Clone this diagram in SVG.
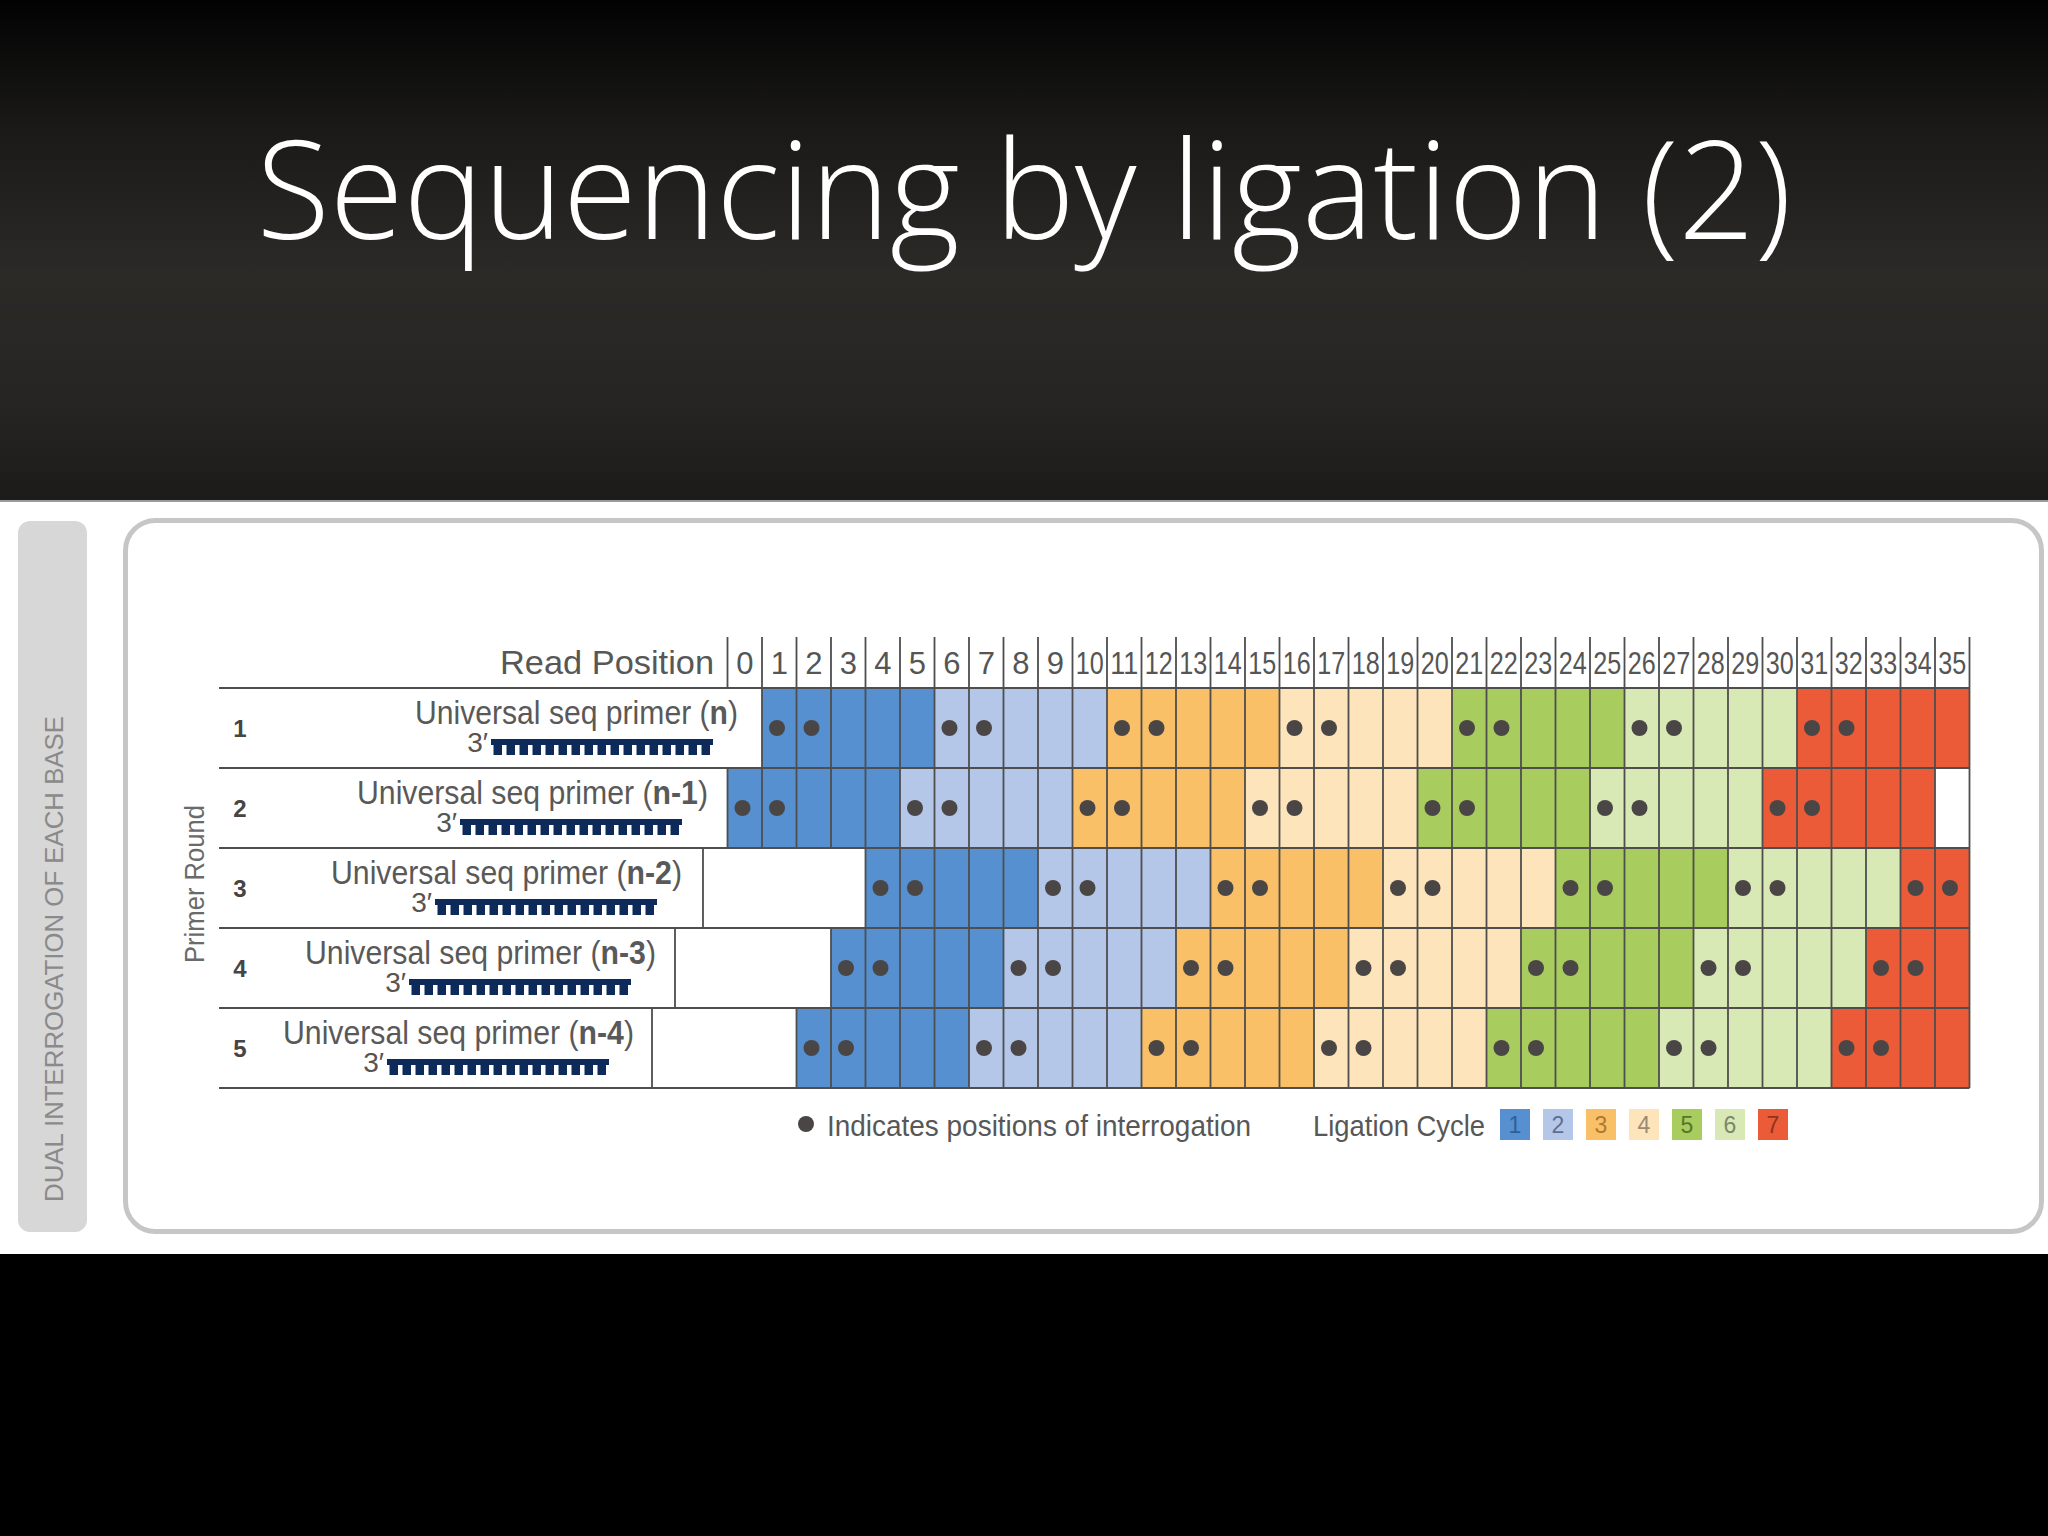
<svg xmlns="http://www.w3.org/2000/svg" xmlns:xlink="http://www.w3.org/1999/xlink" width="2048" height="1536" viewBox="0 0 2048 1536">
<defs>
<linearGradient id="bannerGrad" x1="0" y1="0" x2="0" y2="1">
<stop offset="0" stop-color="#020202"/>
<stop offset="0.25" stop-color="#1a1918"/>
<stop offset="0.55" stop-color="#2c2a27"/>
<stop offset="0.8" stop-color="#272523"/>
<stop offset="1" stop-color="#1c1b19"/>
</linearGradient>
<circle id="dot" cx="0" cy="0" r="8" fill="#4a4646"/>
<g id="comb" fill="#0e2a5a">
<rect x="0" y="0" width="222" height="6"/>
<rect x="2.5" y="4" width="8.5" height="12"/><rect x="15.5" y="4" width="8.5" height="12"/><rect x="28.5" y="4" width="8.5" height="12"/><rect x="41.5" y="4" width="8.5" height="12"/><rect x="54.5" y="4" width="8.5" height="12"/><rect x="67.5" y="4" width="8.5" height="12"/><rect x="80.5" y="4" width="8.5" height="12"/><rect x="93.5" y="4" width="8.5" height="12"/><rect x="106.5" y="4" width="8.5" height="12"/><rect x="119.5" y="4" width="8.5" height="12"/><rect x="132.5" y="4" width="8.5" height="12"/><rect x="145.5" y="4" width="8.5" height="12"/><rect x="158.5" y="4" width="8.5" height="12"/><rect x="171.5" y="4" width="8.5" height="12"/><rect x="184.5" y="4" width="8.5" height="12"/><rect x="197.5" y="4" width="8.5" height="12"/><rect x="210.5" y="4" width="8.5" height="12"/>
</g>
</defs>
<style>
.c1{fill:#5690d0}.c2{fill:#b4c7e8}.c3{fill:#f9c067}.c4{fill:#fde4ba}.c5{fill:#a9cc5f}.c6{fill:#d9e9b6}.c7{fill:#eb5b37}
.t{font-family:"Liberation Sans",Arial,sans-serif;fill:#575757}
.hd{font-family:"Liberation Sans",Arial,sans-serif;font-size:31px;fill:#555;text-anchor:middle}
.pl{font-family:"Liberation Sans",Arial,sans-serif;font-size:34px;fill:#595959}
.th{font-family:"Liberation Sans",Arial,sans-serif;font-size:28px;fill:#555;text-anchor:end}
.rn{font-family:"Liberation Sans",Arial,sans-serif;font-size:24px;font-weight:bold;fill:#454545;text-anchor:middle}
.ln{stroke:#4e4e4e;stroke-width:1.8;fill:none}
.lg{font-family:"Liberation Sans",Arial,sans-serif;font-size:23px;text-anchor:middle}
</style>
<rect x="0" y="0" width="2048" height="1536" fill="#000"/>
<g id="banner">
<rect x="0" y="0" width="2048" height="500" fill="url(#bannerGrad)"/>
<text x="1024" y="239" font-family="'Open Sans','Liberation Sans',sans-serif" font-weight="300" font-size="136" fill="#ffffff" text-anchor="middle" textLength="1535" lengthAdjust="spacingAndGlyphs">Sequencing by ligation (2)</text>
</g>
<g id="panel">
<rect x="0" y="500" width="2048" height="754" fill="#ffffff"/>
<rect x="0" y="500" width="2048" height="2" fill="#9a9a9a"/>
<rect x="18" y="521" width="69" height="711" rx="12" fill="#d7d7d7"/>
<text transform="translate(63,959) rotate(-90)" font-family="'Liberation Sans',Arial,sans-serif" font-size="26" fill="#8a8a8a" text-anchor="middle" textLength="486" lengthAdjust="spacingAndGlyphs">DUAL INTERROGATION OF EACH BASE</text>
<rect x="125.5" y="520.5" width="1916" height="711" rx="30" fill="#ffffff" stroke="#c6c6c6" stroke-width="5"/>
</g>
<g id="header">
<text class="t" x="500" y="674" font-size="34" textLength="214" lengthAdjust="spacingAndGlyphs">Read Position</text>
<text class="hd" x="744.75" y="674">0</text><text class="hd" x="779.25" y="674">1</text><text class="hd" x="813.75" y="674">2</text><text class="hd" x="848.25" y="674">3</text><text class="hd" x="882.75" y="674">4</text><text class="hd" x="917.25" y="674">5</text><text class="hd" x="951.75" y="674">6</text><text class="hd" x="986.25" y="674">7</text><text class="hd" x="1020.75" y="674">8</text><text class="hd" x="1055.25" y="674">9</text>
<text class="hd" x="1089.75" y="674" textLength="28" lengthAdjust="spacingAndGlyphs">10</text><text class="hd" x="1124.25" y="674" textLength="28" lengthAdjust="spacingAndGlyphs">11</text><text class="hd" x="1158.75" y="674" textLength="28" lengthAdjust="spacingAndGlyphs">12</text><text class="hd" x="1193.25" y="674" textLength="28" lengthAdjust="spacingAndGlyphs">13</text><text class="hd" x="1227.75" y="674" textLength="28" lengthAdjust="spacingAndGlyphs">14</text><text class="hd" x="1262.25" y="674" textLength="28" lengthAdjust="spacingAndGlyphs">15</text><text class="hd" x="1296.75" y="674" textLength="28" lengthAdjust="spacingAndGlyphs">16</text><text class="hd" x="1331.25" y="674" textLength="28" lengthAdjust="spacingAndGlyphs">17</text><text class="hd" x="1365.75" y="674" textLength="28" lengthAdjust="spacingAndGlyphs">18</text><text class="hd" x="1400.25" y="674" textLength="28" lengthAdjust="spacingAndGlyphs">19</text>
<text class="hd" x="1434.75" y="674" textLength="28" lengthAdjust="spacingAndGlyphs">20</text><text class="hd" x="1469.25" y="674" textLength="28" lengthAdjust="spacingAndGlyphs">21</text><text class="hd" x="1503.75" y="674" textLength="28" lengthAdjust="spacingAndGlyphs">22</text><text class="hd" x="1538.25" y="674" textLength="28" lengthAdjust="spacingAndGlyphs">23</text><text class="hd" x="1572.75" y="674" textLength="28" lengthAdjust="spacingAndGlyphs">24</text><text class="hd" x="1607.25" y="674" textLength="28" lengthAdjust="spacingAndGlyphs">25</text><text class="hd" x="1641.75" y="674" textLength="28" lengthAdjust="spacingAndGlyphs">26</text><text class="hd" x="1676.25" y="674" textLength="28" lengthAdjust="spacingAndGlyphs">27</text><text class="hd" x="1710.75" y="674" textLength="28" lengthAdjust="spacingAndGlyphs">28</text><text class="hd" x="1745.25" y="674" textLength="28" lengthAdjust="spacingAndGlyphs">29</text>
<text class="hd" x="1779.75" y="674" textLength="28" lengthAdjust="spacingAndGlyphs">30</text><text class="hd" x="1814.25" y="674" textLength="28" lengthAdjust="spacingAndGlyphs">31</text><text class="hd" x="1848.75" y="674" textLength="28" lengthAdjust="spacingAndGlyphs">32</text><text class="hd" x="1883.25" y="674" textLength="28" lengthAdjust="spacingAndGlyphs">33</text><text class="hd" x="1917.75" y="674" textLength="28" lengthAdjust="spacingAndGlyphs">34</text><text class="hd" x="1952.25" y="674" textLength="28" lengthAdjust="spacingAndGlyphs">35</text>
</g>
<g id="cells">
<rect class="c1" x="762" y="688" width="172.5" height="80"/><rect class="c2" x="934.5" y="688" width="172.5" height="80"/><rect class="c3" x="1107" y="688" width="172.5" height="80"/><rect class="c4" x="1279.5" y="688" width="172.5" height="80"/><rect class="c5" x="1452" y="688" width="172.5" height="80"/><rect class="c6" x="1624.5" y="688" width="172.5" height="80"/><rect class="c7" x="1797" y="688" width="172.5" height="80"/>
<rect class="c1" x="727.5" y="768" width="172.5" height="80"/><rect class="c2" x="900" y="768" width="172.5" height="80"/><rect class="c3" x="1072.5" y="768" width="172.5" height="80"/><rect class="c4" x="1245" y="768" width="172.5" height="80"/><rect class="c5" x="1417.5" y="768" width="172.5" height="80"/><rect class="c6" x="1590" y="768" width="172.5" height="80"/><rect class="c7" x="1762.5" y="768" width="172.5" height="80"/>
<rect class="c1" x="865.5" y="848" width="172.5" height="80"/><rect class="c2" x="1038" y="848" width="172.5" height="80"/><rect class="c3" x="1210.5" y="848" width="172.5" height="80"/><rect class="c4" x="1383" y="848" width="172.5" height="80"/><rect class="c5" x="1555.5" y="848" width="172.5" height="80"/><rect class="c6" x="1728" y="848" width="172.5" height="80"/><rect class="c7" x="1900.5" y="848" width="69" height="80"/>
<rect class="c1" x="831" y="928" width="172.5" height="80"/><rect class="c2" x="1003.5" y="928" width="172.5" height="80"/><rect class="c3" x="1176" y="928" width="172.5" height="80"/><rect class="c4" x="1348.5" y="928" width="172.5" height="80"/><rect class="c5" x="1521" y="928" width="172.5" height="80"/><rect class="c6" x="1693.5" y="928" width="172.5" height="80"/><rect class="c7" x="1866" y="928" width="103.5" height="80"/>
<rect class="c1" x="796.5" y="1008" width="172.5" height="80"/><rect class="c2" x="969" y="1008" width="172.5" height="80"/><rect class="c3" x="1141.5" y="1008" width="172.5" height="80"/><rect class="c4" x="1314" y="1008" width="172.5" height="80"/><rect class="c5" x="1486.5" y="1008" width="172.5" height="80"/><rect class="c6" x="1659" y="1008" width="172.5" height="80"/><rect class="c7" x="1831.5" y="1008" width="138" height="80"/>
</g>
<g id="gridlines" class="ln">
<path d="M219 688H1969.5M219 768H1969.5M219 848H1969.5M219 928H1969.5M219 1008H1969.5M219 1088H1969.5"/>
<path d="M727.5 637V688M727.5 768V848M762 637V848M796.5 637V848M796.5 1008V1088M831 637V848M831 928V1088M703 848V928M675 928V1008M652 1008V1088"/>
<path d="M865.5 637V1088M900 637V1088M934.5 637V1088M969 637V1088M1003.5 637V1088M1038 637V1088M1072.5 637V1088M1107 637V1088M1141.5 637V1088M1176 637V1088M1210.5 637V1088M1245 637V1088M1279.5 637V1088M1314 637V1088M1348.5 637V1088M1383 637V1088M1417.5 637V1088M1452 637V1088M1486.5 637V1088M1521 637V1088M1555.5 637V1088M1590 637V1088M1624.5 637V1088M1659 637V1088M1693.5 637V1088M1728 637V1088M1762.5 637V1088M1797 637V1088M1831.5 637V1088M1866 637V1088M1900.5 637V1088M1935 637V1088M1969.5 637V1088"/>
</g>
<g id="dots">
<use href="#dot" x="777" y="728"/><use href="#dot" x="811.5" y="728"/><use href="#dot" x="949.5" y="728"/><use href="#dot" x="984" y="728"/><use href="#dot" x="1122" y="728"/><use href="#dot" x="1156.5" y="728"/><use href="#dot" x="1294.5" y="728"/><use href="#dot" x="1329" y="728"/><use href="#dot" x="1467" y="728"/><use href="#dot" x="1501.5" y="728"/><use href="#dot" x="1639.5" y="728"/><use href="#dot" x="1674" y="728"/><use href="#dot" x="1812" y="728"/><use href="#dot" x="1846.5" y="728"/>
<use href="#dot" x="742.5" y="808"/><use href="#dot" x="777" y="808"/><use href="#dot" x="915" y="808"/><use href="#dot" x="949.5" y="808"/><use href="#dot" x="1087.5" y="808"/><use href="#dot" x="1122" y="808"/><use href="#dot" x="1260" y="808"/><use href="#dot" x="1294.5" y="808"/><use href="#dot" x="1432.5" y="808"/><use href="#dot" x="1467" y="808"/><use href="#dot" x="1605" y="808"/><use href="#dot" x="1639.5" y="808"/><use href="#dot" x="1777.5" y="808"/><use href="#dot" x="1812" y="808"/>
<use href="#dot" x="880.5" y="888"/><use href="#dot" x="915" y="888"/><use href="#dot" x="1053" y="888"/><use href="#dot" x="1087.5" y="888"/><use href="#dot" x="1225.5" y="888"/><use href="#dot" x="1260" y="888"/><use href="#dot" x="1398" y="888"/><use href="#dot" x="1432.5" y="888"/><use href="#dot" x="1570.5" y="888"/><use href="#dot" x="1605" y="888"/><use href="#dot" x="1743" y="888"/><use href="#dot" x="1777.5" y="888"/><use href="#dot" x="1915.5" y="888"/><use href="#dot" x="1950" y="888"/>
<use href="#dot" x="846" y="968"/><use href="#dot" x="880.5" y="968"/><use href="#dot" x="1018.5" y="968"/><use href="#dot" x="1053" y="968"/><use href="#dot" x="1191" y="968"/><use href="#dot" x="1225.5" y="968"/><use href="#dot" x="1363.5" y="968"/><use href="#dot" x="1398" y="968"/><use href="#dot" x="1536" y="968"/><use href="#dot" x="1570.5" y="968"/><use href="#dot" x="1708.5" y="968"/><use href="#dot" x="1743" y="968"/><use href="#dot" x="1881" y="968"/><use href="#dot" x="1915.5" y="968"/>
<use href="#dot" x="811.5" y="1048"/><use href="#dot" x="846" y="1048"/><use href="#dot" x="984" y="1048"/><use href="#dot" x="1018.5" y="1048"/><use href="#dot" x="1156.5" y="1048"/><use href="#dot" x="1191" y="1048"/><use href="#dot" x="1329" y="1048"/><use href="#dot" x="1363.5" y="1048"/><use href="#dot" x="1501.5" y="1048"/><use href="#dot" x="1536" y="1048"/><use href="#dot" x="1674" y="1048"/><use href="#dot" x="1708.5" y="1048"/><use href="#dot" x="1846.5" y="1048"/><use href="#dot" x="1881" y="1048"/>
</g>
<g id="rowlabels">
<text transform="translate(204,884) rotate(-90)" font-family="'Liberation Sans',Arial,sans-serif" font-size="27" fill="#6a6a6a" text-anchor="middle" textLength="158" lengthAdjust="spacingAndGlyphs">Primer Round</text>
<text class="rn" x="240" y="737">1</text><text class="rn" x="240" y="817">2</text><text class="rn" x="240" y="897">3</text><text class="rn" x="240" y="977">4</text><text class="rn" x="240" y="1057">5</text>
</g>
<g id="primer1">
<text class="pl" x="415" y="724" textLength="323" lengthAdjust="spacingAndGlyphs">Universal seq primer (<tspan font-weight="bold">n</tspan>)</text>
<text class="th" x="488" y="752">3′</text>
<use href="#comb" x="491" y="739"/>
</g>
<g id="primer2">
<text class="pl" x="357" y="804" textLength="351" lengthAdjust="spacingAndGlyphs">Universal seq primer (<tspan font-weight="bold">n-1</tspan>)</text>
<text class="th" x="457" y="832">3′</text>
<use href="#comb" x="460" y="819"/>
</g>
<g id="primer3">
<text class="pl" x="331" y="884" textLength="351" lengthAdjust="spacingAndGlyphs">Universal seq primer (<tspan font-weight="bold">n-2</tspan>)</text>
<text class="th" x="432" y="912">3′</text>
<use href="#comb" x="435" y="899"/>
</g>
<g id="primer4">
<text class="pl" x="305" y="964" textLength="351" lengthAdjust="spacingAndGlyphs">Universal seq primer (<tspan font-weight="bold">n-3</tspan>)</text>
<text class="th" x="406" y="992">3′</text>
<use href="#comb" x="409" y="979"/>
</g>
<g id="primer5">
<text class="pl" x="283" y="1044" textLength="351" lengthAdjust="spacingAndGlyphs">Universal seq primer (<tspan font-weight="bold">n-4</tspan>)</text>
<text class="th" x="384" y="1072">3′</text>
<use href="#comb" x="387" y="1059"/>
</g>
<g id="legend">
<use href="#dot" x="806" y="1124"/>
<text class="t" x="827" y="1136" font-size="30" fill="#666" textLength="424" lengthAdjust="spacingAndGlyphs">Indicates positions of interrogation</text>
<text class="t" x="1313" y="1136" font-size="30" fill="#666" textLength="172" lengthAdjust="spacingAndGlyphs">Ligation Cycle</text>
<rect class="c1" x="1500" y="1109" width="30" height="31"/><text class="lg" x="1515" y="1133" fill="#2e5f98">1</text>
<rect class="c2" x="1543" y="1109" width="30" height="31"/><text class="lg" x="1558" y="1133" fill="#5c6f94">2</text>
<rect class="c3" x="1586" y="1109" width="30" height="31"/><text class="lg" x="1601" y="1133" fill="#a97b30">3</text>
<rect class="c4" x="1629" y="1109" width="30" height="31"/><text class="lg" x="1644" y="1133" fill="#9a8a72">4</text>
<rect class="c5" x="1672" y="1109" width="30" height="31"/><text class="lg" x="1687" y="1133" fill="#56762c">5</text>
<rect class="c6" x="1715" y="1109" width="30" height="31"/><text class="lg" x="1730" y="1133" fill="#7b8868">6</text>
<rect class="c7" x="1758" y="1109" width="30" height="31"/><text class="lg" x="1773" y="1133" fill="#8e3420">7</text>
</g>
</svg>
